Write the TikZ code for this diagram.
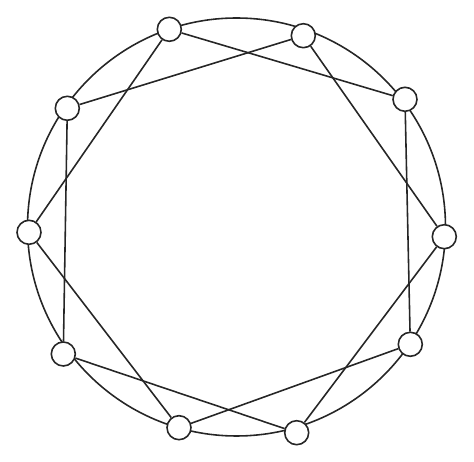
\documentclass[tikz,border=0pt]{standalone}
\usepackage{tikz}
\usetikzlibrary{calc,positioning}

\begin{document}
\begin{tikzpicture}[x=0.02cm,y=-0.02cm,line width=.9pt,draw=black!85]

  \useasboundingbox (0,0) rectangle (474,462);

  \node (center) [draw=none] at(236.5,227) {};
  \draw[black!85] (center.center) circle [radius=209];

  \foreach \i/\x/\y in {1/169.3/29.3,2/303.3/35.7,3/405/99.3,4/444.3/236.7,5/410.3/344.3,%
                        6/296.7/432.7,7/179/427.7,8/63.3/354,9/29/232.3,10/67.3/108.3}
           {
             \node (vertex_\i) [circle,draw=black!85,fill=white,inner sep=0pt,minimum size=.48cm] at(\x,\y) {};
           }

  %% two pentagons, every second vertex
  \foreach \i/\j in {1/3,3/5,5/7,7/9,9/1,2/4,4/6,6/8,8/10,10/2}
           {
             \draw[black!85] (vertex_\i) -- (vertex_\j);
           }

\end{tikzpicture}
\end{document}
